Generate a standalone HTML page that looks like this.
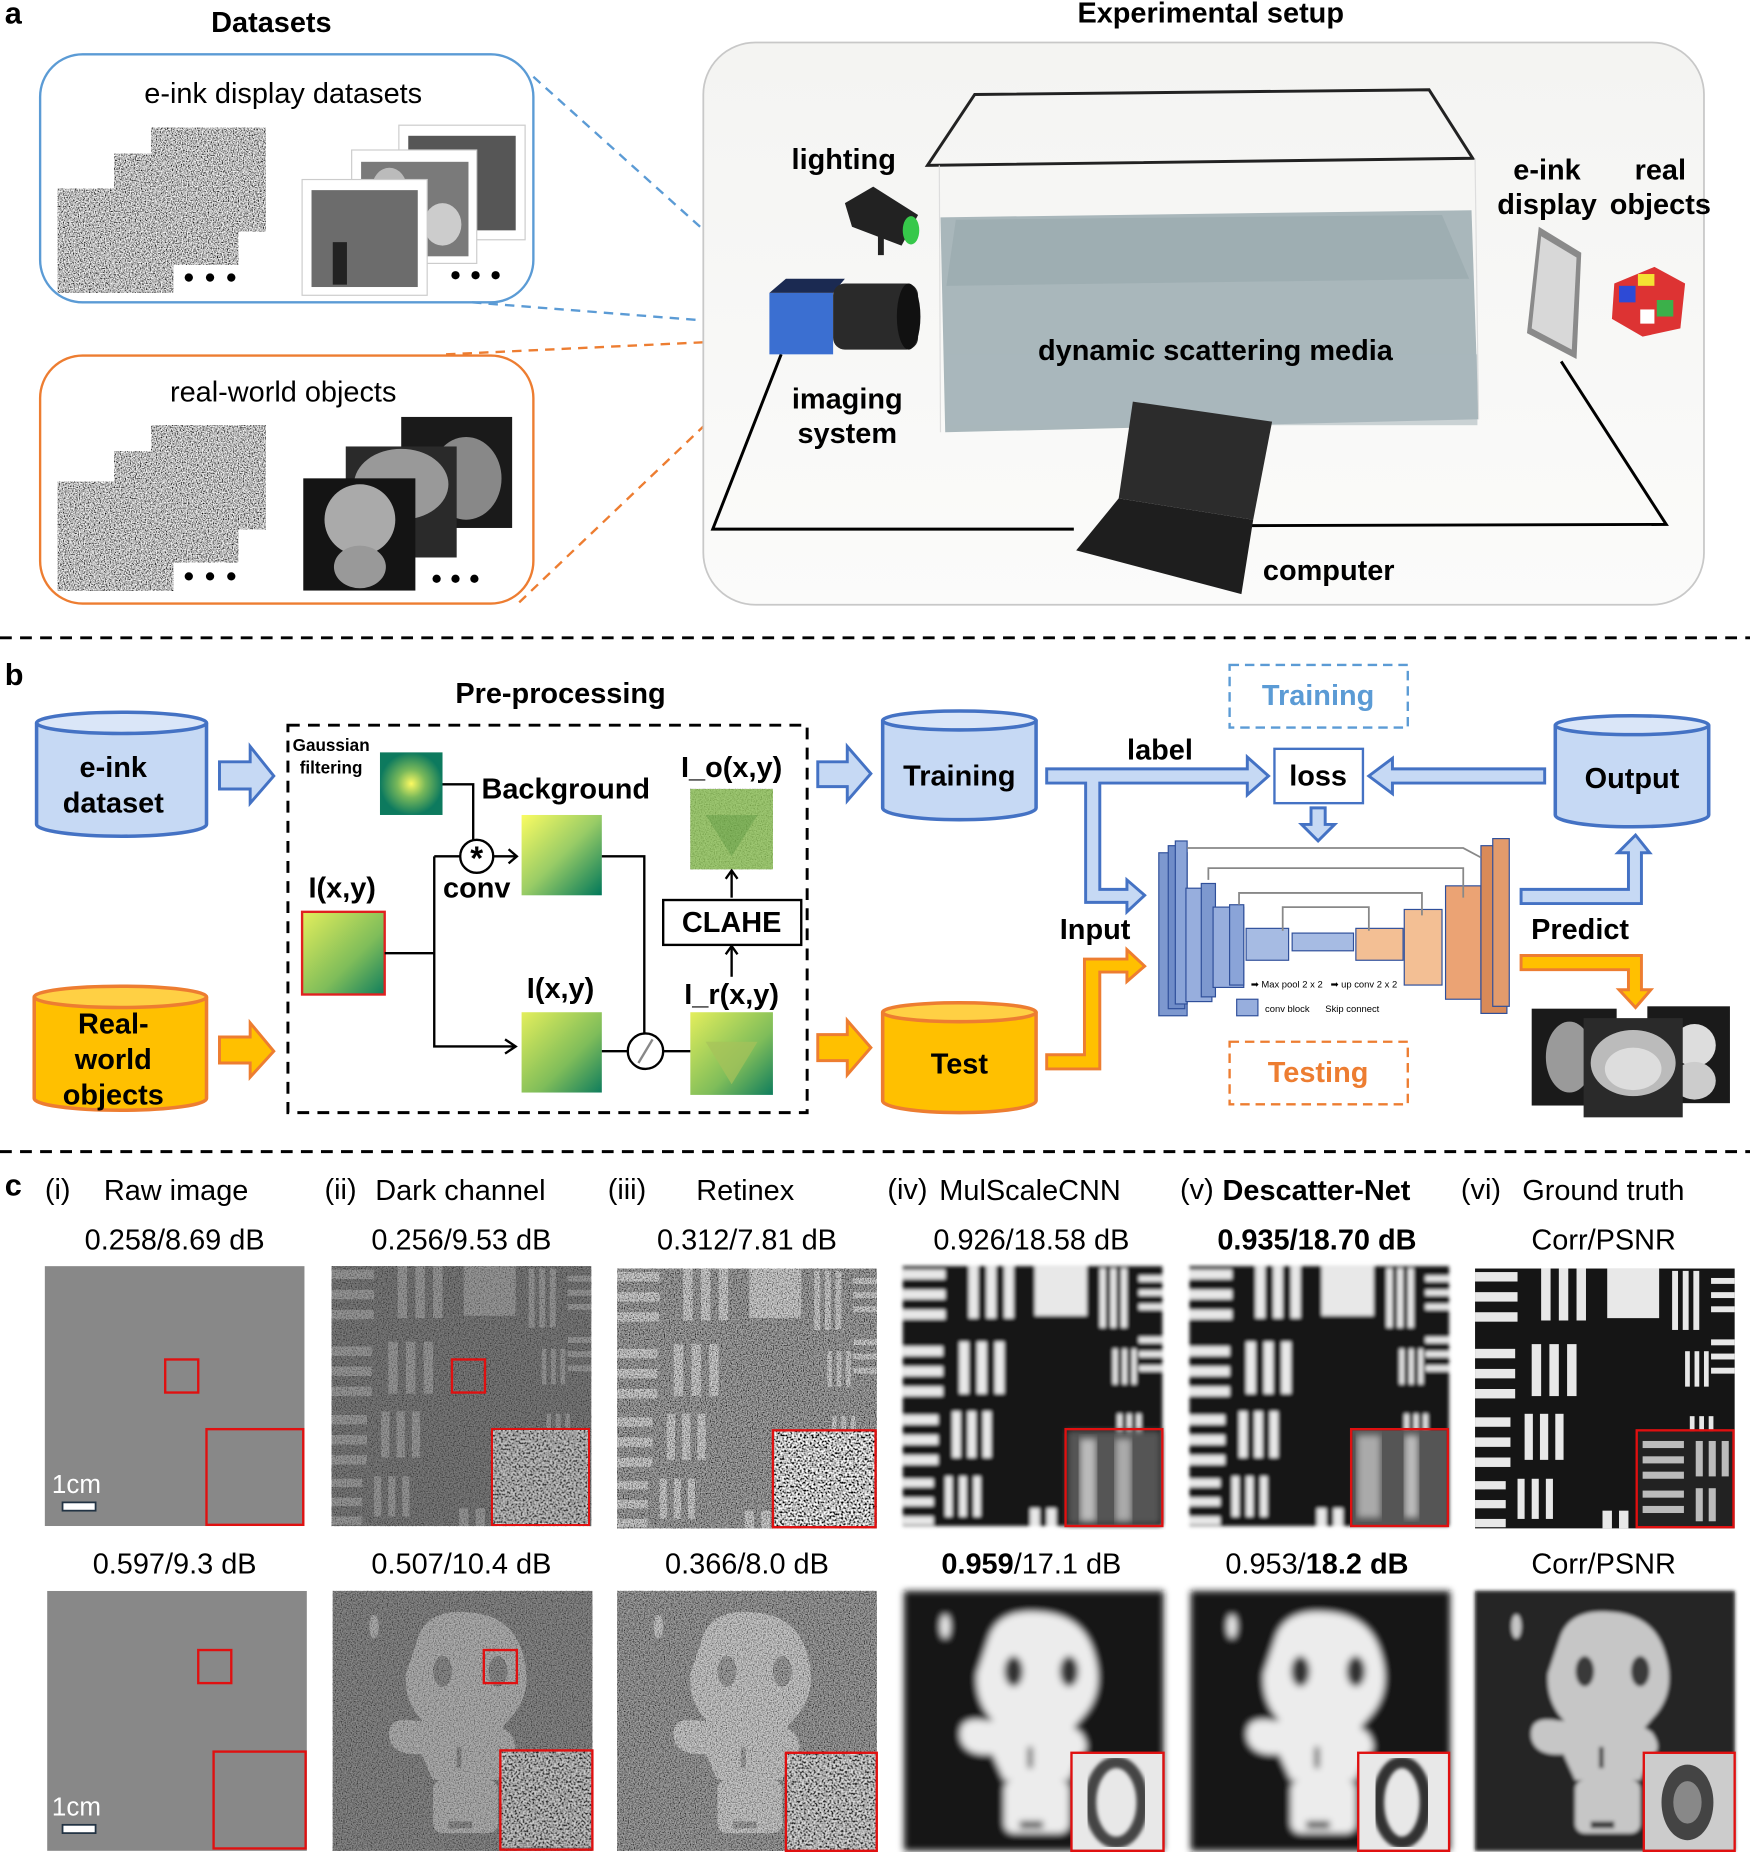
<!DOCTYPE html>
<html><head><meta charset="utf-8">
<style>
html,body{margin:0;padding:0;background:#fff;}
svg{display:block;}
text{font-family:"Liberation Sans",Arial,sans-serif;}
</style></head>
<body>
<svg width="1750" height="1852" viewBox="0 0 1483 1568" preserveAspectRatio="none" xmlns="http://www.w3.org/2000/svg">
<defs>
 <filter id="nz" x="0" y="0" width="1" height="1">
  <feTurbulence type="fractalNoise" baseFrequency="0.95" numOctaves="2" seed="3"/>
  <feColorMatrix type="matrix" values="2.2 0 0 0 -0.6  2.2 0 0 0 -0.6  2.2 0 0 0 -0.6  0 0 0 0 1"/>
 </filter>
 <filter id="nzs" x="0" y="0" width="1" height="1">
  <feTurbulence type="fractalNoise" baseFrequency="0.6" numOctaves="1" seed="7"/>
  <feColorMatrix type="matrix" values="3 0 0 0 -1  3 0 0 0 -1  3 0 0 0 -1  0 0 0 0 1"/>
 </filter>
 <filter id="bl" x="-5%" y="-5%" width="110%" height="110%"><feGaussianBlur stdDeviation="1.6"/></filter>
 <filter id="bl2" x="-5%" y="-5%" width="110%" height="110%"><feGaussianBlur stdDeviation="3"/></filter>
 <linearGradient id="gy" x1="0" y1="0" x2="1" y2="1"><stop offset="0" stop-color="#e3ee5c"/><stop offset="0.6" stop-color="#7fbd5a"/><stop offset="1" stop-color="#0f7d5d"/></linearGradient>
 <linearGradient id="gy2" x1="0" y1="0" x2="1" y2="1"><stop offset="0" stop-color="#fafc62"/><stop offset="0.5" stop-color="#99cc66"/><stop offset="1" stop-color="#00775a"/></linearGradient>
 <radialGradient id="gs"><stop offset="0" stop-color="#fcfa62"/><stop offset="0.45" stop-color="#78b85a"/><stop offset="1" stop-color="#0d7a5e"/></radialGradient>
 <linearGradient id="bg" x1="0" y1="0" x2="0" y2="1"><stop offset="0" stop-color="#f4f4f2"/><stop offset="1" stop-color="#fbfbfa"/></linearGradient>
 <g id="tgt">
  <rect width="220" height="220" fill="#151515"/>
  <g fill="#e8e8e8">
   <rect x="0" y="3" width="36" height="8"/><rect x="0" y="20" width="36" height="8"/><rect x="0" y="37" width="36" height="8"/>
   <rect x="0" y="68" width="34" height="8"/><rect x="0" y="85" width="34" height="8"/><rect x="0" y="102" width="34" height="8"/>
   <rect x="0" y="126" width="30" height="8"/><rect x="0" y="143" width="30" height="8"/><rect x="0" y="160" width="30" height="8"/>
   <rect x="0" y="180" width="26" height="7"/><rect x="0" y="196" width="26" height="7"/><rect x="0" y="212" width="26" height="7"/>
   <rect x="56" y="0" width="8" height="44"/><rect x="71" y="0" width="8" height="44"/><rect x="86" y="0" width="8" height="44"/>
   <rect x="48" y="64" width="8" height="44"/><rect x="63" y="64" width="8" height="44"/><rect x="78" y="64" width="8" height="44"/>
   <rect x="42" y="123" width="7" height="39"/><rect x="55" y="123" width="7" height="39"/><rect x="68" y="123" width="7" height="39"/>
   <rect x="36" y="178" width="6" height="34"/><rect x="48" y="178" width="6" height="34"/><rect x="60" y="178" width="6" height="34"/>
   <rect x="112" y="0" width="44" height="42"/>
   <rect x="167" y="2" width="5" height="50"/><rect x="176" y="2" width="5" height="50"/><rect x="185" y="2" width="5" height="50"/>
   <rect x="200" y="8" width="20" height="5"/><rect x="200" y="20" width="20" height="5"/><rect x="200" y="32" width="20" height="5"/>
   <rect x="200" y="60" width="20" height="5"/><rect x="200" y="72" width="20" height="5"/><rect x="200" y="84" width="20" height="5"/>
   <rect x="178" y="70" width="4" height="30"/><rect x="186" y="70" width="4" height="30"/><rect x="194" y="70" width="4" height="30"/>
   <rect x="182" y="125" width="4" height="30"/><rect x="190" y="125" width="4" height="30"/><rect x="198" y="125" width="4" height="30"/>
   <rect x="108" y="205" width="8" height="15"/><rect x="122" y="205" width="8" height="15"/>
  </g>
 </g>
 <g id="doll">
  <rect width="220" height="220" fill="#161616"/>
  <g fill="#ececec">
   <path d="M72 40 Q80 15 115 18 Q150 20 160 50 Q172 85 150 108 L140 120 Q110 130 85 118 Q60 100 62 70 Z"/>
   <path d="M70 110 Q45 105 48 125 Q52 140 75 138 L85 160 L140 160 L148 140 Q160 135 150 120 L138 112 Z"/>
   <rect x="85" y="160" width="55" height="45" rx="8"/>
   <ellipse cx="35" cy="30" rx="4" ry="10"/>
  </g>
  <g fill="#333"><ellipse cx="93" cy="68" rx="8" ry="13"/><ellipse cx="140" cy="68" rx="8" ry="13"/><rect x="105" y="132" width="4" height="18"/><rect x="98" y="195" width="20" height="6"/></g>
 </g>
</defs>

<!-- ============ PANEL A ============ -->
<text x="4" y="20" font-size="26" font-weight="bold">a</text>
<text x="230" y="27" font-size="24.5" font-weight="bold" text-anchor="middle">Datasets</text>
<text x="1026" y="19" font-size="24.5" font-weight="bold" text-anchor="middle">Experimental setup</text>

<rect x="34" y="46" width="418" height="210" rx="36" fill="#fff" stroke="#5b9bd5" stroke-width="2"/>
<text x="240" y="87" font-size="24.5" text-anchor="middle">e-ink display datasets</text>
<rect x="128" y="108" width="97" height="88" filter="url(#nz)"/>
<rect x="97" y="130" width="105" height="94" fill="#fff"/>
<rect x="97" y="130" width="105" height="94" filter="url(#nz)"/>
<rect x="49" y="160" width="98" height="88" fill="#fff"/>
<rect x="49" y="160" width="98" height="88" filter="url(#nz)"/>
<g fill="#000"><circle cx="160" cy="235" r="3.5"/><circle cx="178" cy="235" r="3.5"/><circle cx="196" cy="235" r="3.5"/>
<circle cx="386" cy="233" r="3.5"/><circle cx="403" cy="233" r="3.5"/><circle cx="420" cy="233" r="3.5"/></g>
<rect x="338" y="106" width="107" height="97" fill="#fff" stroke="#ccc"/><rect x="346" y="115" width="91" height="80" fill="#6d6d6d"/><rect x="346" y="115" width="91" height="80" fill="#222" opacity="0.3"/>
<rect x="298" y="127" width="106" height="96" fill="#fff" stroke="#ccc"/><rect x="306" y="137" width="91" height="80" fill="#7a7a7a"/><ellipse cx="330" cy="160" rx="15" ry="18" fill="#bbb"/><ellipse cx="375" cy="190" rx="16" ry="18" fill="#ccc"/>
<rect x="256" y="152" width="106" height="98" fill="#fff" stroke="#ccc"/><rect x="264" y="161" width="90" height="82" fill="#8a8a8a"/><rect x="264" y="161" width="90" height="82" fill="#333" opacity="0.35"/><rect x="282" y="205" width="12" height="36" fill="#222"/>

<rect x="34" y="301" width="418" height="210" rx="36" fill="#fff" stroke="#ed7d31" stroke-width="2"/>
<text x="240" y="340" font-size="24.5" text-anchor="middle">real-world objects</text>
<rect x="128" y="360" width="97" height="88" filter="url(#nz)"/>
<rect x="97" y="382" width="105" height="94" fill="#fff"/>
<rect x="97" y="382" width="105" height="94" filter="url(#nz)"/>
<rect x="49" y="408" width="98" height="92" fill="#fff"/>
<rect x="49" y="408" width="98" height="92" filter="url(#nz)"/>
<g fill="#000"><circle cx="160" cy="488" r="3.5"/><circle cx="178" cy="488" r="3.5"/><circle cx="196" cy="488" r="3.5"/>
<circle cx="370" cy="490" r="3.5"/><circle cx="386" cy="490" r="3.5"/><circle cx="402" cy="490" r="3.5"/></g>
<rect x="340" y="353" width="94" height="94" fill="#1a1a1a"/><ellipse cx="395" cy="405" rx="30" ry="35" fill="#888"/>
<rect x="293" y="378" width="94" height="94" fill="#2a2a2a"/><ellipse cx="340" cy="410" rx="40" ry="30" fill="#999"/>
<rect x="257" y="405" width="95" height="95" fill="#141414"/><ellipse cx="305" cy="440" rx="30" ry="30" fill="#aaa"/><ellipse cx="305" cy="480" rx="22" ry="18" fill="#999"/>

<!-- dashed connectors -->
<g stroke-width="2" stroke-dasharray="8,6" fill="none">
 <line x1="452" y1="65" x2="660" y2="252" stroke="#5b9bd5"/>
 <line x1="400" y1="256" x2="656" y2="276" stroke="#5b9bd5"/>
 <line x1="378" y1="300" x2="656" y2="287" stroke="#ed7d31"/>
 <line x1="440" y1="510" x2="660" y2="300" stroke="#ed7d31"/>
</g>

<!-- setup box -->
<rect x="596" y="36" width="848" height="476" rx="44" fill="url(#bg)" stroke="#c8c8c8" stroke-width="1.5"/>
<polyline points="662,300 604,448 910,448" fill="none" stroke="#000" stroke-width="2.5"/>
<polyline points="1060,445 1412,444 1323,306" fill="none" stroke="#000" stroke-width="2.5"/>
<polygon points="786,140 826,80 1211,76 1248,134" fill="none" stroke="#222" stroke-width="2.5"/>
<polygon points="797,184 1247,178 1253,355 801,366" fill="#a9b7bb"/>
<polygon points="810,186 1222,182 1245,236 802,242" fill="#9eaeb2"/>
<rect x="802" y="300" width="450" height="60" fill="#aab8bc" opacity="0.6"/>
<line x1="796" y1="140" x2="797" y2="366" stroke="#ddd"/><line x1="1250" y1="134" x2="1253" y2="355" stroke="#ddd"/>
<text x="1030" y="305" font-size="24.5" font-weight="bold" text-anchor="middle">dynamic scattering media</text>
<polygon points="960,340 1078,357 1062,440 948,422" fill="#2c2c2c"/>
<polygon points="948,422 1062,440 1052,503 912,466" fill="#1e1e1e"/>
<rect x="652" y="248" width="54" height="52" fill="#3b6fd1"/>
<polygon points="652,248 666,236 716,236 706,248" fill="#1b2a52"/>
<rect x="706" y="240" width="72" height="56" rx="10" fill="#2a2a2a"/>
<ellipse cx="770" cy="268" rx="10" ry="28" fill="#111"/>
<polygon points="716,172 740,158 778,182 764,208 722,192" fill="#222"/>
<ellipse cx="772" cy="195" rx="7" ry="12" fill="#36c84a"/>
<rect x="744" y="200" width="5" height="16" fill="#222"/>
<text x="715" y="143" font-size="24.5" font-weight="bold" text-anchor="middle">lighting</text>
<text x="718" y="346" font-size="24.5" font-weight="bold" text-anchor="middle">imaging</text>
<text x="718" y="375" font-size="24.5" font-weight="bold" text-anchor="middle">system</text>
<text x="1126" y="491" font-size="24.5" font-weight="bold" text-anchor="middle">computer</text>
<text x="1311" y="152" font-size="24.5" font-weight="bold" text-anchor="middle">e-ink</text>
<text x="1311" y="181" font-size="24.5" font-weight="bold" text-anchor="middle">display</text>
<text x="1407" y="152" font-size="24.5" font-weight="bold" text-anchor="middle">real</text>
<text x="1407" y="181" font-size="24.5" font-weight="bold" text-anchor="middle">objects</text>
<polygon points="1304,192 1340,214 1336,304 1294,282" fill="#8a8a8a"/>
<polygon points="1306,200 1336,218 1332,296 1298,278" fill="#d8d8d8"/>
<polygon points="1368,240 1402,226 1428,240 1424,278 1392,285 1366,270" fill="#d33"/>
<rect x="1372" y="242" width="14" height="14" fill="#2d4ad6"/><rect x="1388" y="232" width="14" height="10" fill="#f4e233"/><rect x="1404" y="254" width="14" height="14" fill="#3bb04a"/><rect x="1390" y="262" width="12" height="12" fill="#fff"/>

<line x1="0" y1="540" x2="1483" y2="540" stroke="#000" stroke-width="2.5" stroke-dasharray="10,7"/>

<!-- ============ PANEL B ============ -->
<text x="4" y="580" font-size="26" font-weight="bold">b</text>
<text x="475" y="595" font-size="24.5" font-weight="bold" text-anchor="middle">Pre-processing</text>

<g stroke-width="3">
 <path d="M31 612 L31 698 A72 10 0 0 0 175 698 L175 612" fill="#c6d9f4" stroke="#4472c4"/>
 <ellipse cx="103" cy="612" rx="72" ry="9" fill="#dae6f8" stroke="#4472c4"/>
 <path d="M29 844 L29 930 A73 10 0 0 0 175 930 L175 844" fill="#ffc000" stroke="#ed7d31"/>
 <ellipse cx="102" cy="844" rx="73" ry="9" fill="#ffd044" stroke="#ed7d31"/>
 <path d="M748 610 L748 684 A65 10 0 0 0 878 684 L878 610" fill="#c6d9f4" stroke="#4472c4"/>
 <ellipse cx="813" cy="610" rx="65" ry="8" fill="#dae6f8" stroke="#4472c4"/>
 <path d="M748 857 L748 932 A65 10 0 0 0 878 932 L878 857" fill="#ffc000" stroke="#ed7d31"/>
 <ellipse cx="813" cy="857" rx="65" ry="8" fill="#ffd044" stroke="#ed7d31"/>
 <path d="M1318 614 L1318 690 A65 10 0 0 0 1448 690 L1448 614" fill="#c6d9f4" stroke="#4472c4"/>
 <ellipse cx="1383" cy="614" rx="65" ry="8" fill="#dae6f8" stroke="#4472c4"/>
</g>
<text x="96" y="658" font-size="24.5" font-weight="bold" text-anchor="middle">e-ink</text>
<text x="96" y="688" font-size="24.5" font-weight="bold" text-anchor="middle">dataset</text>
<text x="96" y="875" font-size="24.5" font-weight="bold" text-anchor="middle">Real-</text>
<text x="96" y="905" font-size="24.5" font-weight="bold" text-anchor="middle">world</text>
<text x="96" y="935" font-size="24.5" font-weight="bold" text-anchor="middle">objects</text>
<text x="813" y="665" font-size="24.5" font-weight="bold" text-anchor="middle">Training</text>
<text x="813" y="909" font-size="24.5" font-weight="bold" text-anchor="middle">Test</text>
<text x="1383" y="667" font-size="24.5" font-weight="bold" text-anchor="middle">Output</text>

<g stroke-width="2.5">
 <polygon points="186,645 212,645 212,632 232,657 212,680 212,668 186,668" fill="#c6d9f4" stroke="#4472c4"/>
 <polygon points="186,878 212,878 212,866 232,890 212,912 212,900 186,900" fill="#ffc000" stroke="#ed7d31"/>
 <polygon points="693,645 718,645 718,632 738,655 718,678 718,666 693,666" fill="#c6d9f4" stroke="#4472c4"/>
 <polygon points="693,876 718,876 718,864 738,887 718,910 718,898 693,898" fill="#ffc000" stroke="#ed7d31"/>
 <polygon points="887,651 1057,651 1057,641 1075,657 1057,673 1057,663 932,663 932,753 955,753 955,745 970,758 955,772 955,764 920,764 920,663 887,663" fill="#c6d9f4" stroke="#4472c4"/>
 <polygon points="1309,651 1180,651 1180,642 1160,657 1180,672 1180,663 1309,663" fill="#c6d9f4" stroke="#4472c4"/>
 <polygon points="1111,684 1123,684 1123,698 1131,698 1117,712 1103,698 1111,698" fill="#c6d9f4" stroke="#4472c4"/>
 <polygon points="1289,753 1380,753 1380,722 1371,722 1386,707 1398,722 1391,722 1391,765 1289,765" fill="#c6d9f4" stroke="#4472c4"/>
 <polygon points="887,893 919,893 919,812 955,812 955,804 970,818 955,831 955,823 932,823 932,905 887,905" fill="#ffc000" stroke="#ed7d31"/>
 <polygon points="1289,809 1391,809 1391,838 1399,838 1386,853 1372,838 1380,838 1380,821 1289,821" fill="#ffc000" stroke="#ed7d31"/>
</g>
<text x="983" y="643" font-size="24.5" font-weight="bold" text-anchor="middle">label</text>
<rect x="1080" y="634" width="75" height="46" fill="#fff" stroke="#4472c4" stroke-width="2"/>
<text x="1117" y="665" font-size="24.5" font-weight="bold" text-anchor="middle">loss</text>
<rect x="1042" y="563" width="151" height="53" fill="none" stroke="#5b9bd5" stroke-width="2" stroke-dasharray="8,5"/>
<text x="1117" y="597" font-size="24.5" font-weight="bold" fill="#5b9bd5" text-anchor="middle">Training</text>
<rect x="1042" y="882" width="151" height="53" fill="none" stroke="#ed7d31" stroke-width="2" stroke-dasharray="8,5"/>
<text x="1117" y="916" font-size="24.5" font-weight="bold" fill="#ed7d31" text-anchor="middle">Testing</text>
<text x="928" y="795" font-size="24.5" font-weight="bold" text-anchor="middle">Input</text>
<text x="1339" y="795" font-size="24.5" font-weight="bold" text-anchor="middle">Predict</text>

<g stroke="#2f4f9a" stroke-width="1">
 <rect x="982" y="722" width="24" height="138" fill="#7d98cf"/><rect x="990" y="716" width="14" height="138" fill="#6f8cc8"/><rect x="996" y="712" width="10" height="138" fill="#8aa4d8"/>
 <rect x="1005" y="752" width="22" height="96" fill="#97aedd"/><rect x="1018" y="748" width="12" height="96" fill="#7d98cf"/>
 <rect x="1028" y="768" width="26" height="68" fill="#97aedd"/><rect x="1042" y="766" width="12" height="68" fill="#8aa4d8"/>
 <rect x="1056" y="786" width="36" height="27" fill="#a6bbe3"/>
 <rect x="1095" y="790" width="52" height="15" fill="#a6bbe3"/>
</g>
<g stroke="#2f4f9a" stroke-width="1">
 <rect x="1149" y="786" width="40" height="27" fill="#f3bf94"/><rect x="1190" y="770" width="32" height="64" fill="#f3bf94"/>
 <rect x="1225" y="750" width="30" height="96" fill="#eba374"/><rect x="1255" y="716" width="22" height="142" fill="#d98a58"/><rect x="1265" y="710" width="14" height="142" fill="#e29b6c"/>
</g>
<g stroke="#888" stroke-width="1.5" fill="none">
 <polyline points="1006,718 1240,718 1255,726"/>
 <polyline points="1024,745 1024,735 1240,735 1240,760"/>
 <polyline points="1050,766 1050,756 1205,756 1205,775"/>
 <polyline points="1087,788 1087,768 1160,768 1160,788"/>
</g>
<text x="1060" y="836" font-size="8">➡ Max pool 2 x 2 &#160; ➡ up conv 2 x 2</text>
<rect x="1048" y="846" width="18" height="14" fill="#97aedd" stroke="#2f4f9a"/>
<text x="1072" y="857" font-size="8">conv block &#160;&#160;&#160;&#160; Skip connect</text>
<rect x="1298" y="854" width="72" height="82" fill="#1a1a1a"/><ellipse cx="1330" cy="895" rx="20" ry="30" fill="#9a9a9a"/>
<rect x="1396" y="852" width="70" height="82" fill="#1a1a1a"/><ellipse cx="1436" cy="885" rx="18" ry="18" fill="#ddd"/><ellipse cx="1436" cy="915" rx="18" ry="16" fill="#ccc"/>
<rect x="1342" y="862" width="84" height="84" fill="#2a2a2a"/><ellipse cx="1384" cy="900" rx="36" ry="28" fill="#bbb"/><ellipse cx="1384" cy="905" rx="24" ry="18" fill="#ddd"/>

<rect x="244" y="614" width="440" height="328" fill="none" stroke="#000" stroke-width="2.5" stroke-dasharray="10,7"/>
<text x="248" y="636" font-size="14.5" font-weight="bold">Gaussian</text>
<text x="254" y="655" font-size="14.5" font-weight="bold">filtering</text>
<rect x="322" y="637" width="53" height="53" fill="url(#gs)"/>
<text x="408" y="676" font-size="24.5" font-weight="bold">Background</text>
<rect x="442" y="690" width="68" height="68" fill="url(#gy2)"/>
<text x="290" y="760" font-size="24.5" font-weight="bold" text-anchor="middle">I(x,y)</text>
<rect x="256" y="772" width="70" height="70" fill="url(#gy)" stroke="#e02020" stroke-width="2"/>
<text x="475" y="845" font-size="24.5" font-weight="bold" text-anchor="middle">I(x,y)</text>
<rect x="442" y="857" width="68" height="68" fill="url(#gy)"/>
<text x="620" y="850" font-size="24.5" font-weight="bold" text-anchor="middle">I_r(x,y)</text>
<rect x="585" y="857" width="70" height="70" fill="url(#gy)"/><polygon points="598,882 642,882 620,918" fill="#a6c25a" opacity="0.7"/>
<text x="620" y="658" font-size="24.5" font-weight="bold" text-anchor="middle">I_o(x,y)</text>
<rect x="585" y="668" width="70" height="68" fill="#8cbf54"/><rect x="585" y="668" width="70" height="68" fill="#6aa84f" opacity="0.4" filter="url(#nz)"/><rect x="585" y="668" width="70" height="68" fill="#8cc05a" opacity="0.55"/>
<polygon points="598,690 642,690 620,725" fill="#4f8f3a" opacity="0.35"/>
<rect x="562" y="762" width="117" height="38" fill="#fff" stroke="#000" stroke-width="2"/>
<text x="620" y="789" font-size="24.5" font-weight="bold" text-anchor="middle">CLAHE</text>
<g stroke="#000" stroke-width="2" fill="none">
 <polyline points="375,664 401,664 401,712"/>
 <polyline points="326,807 368,807"/>
 <polyline points="368,725 368,886 436,886"/><polyline points="428,880 437,886 428,892"/>
 <line x1="368" y1="725" x2="390" y2="725"/>
 <line x1="418" y1="725" x2="438" y2="725"/><polyline points="431,719 438,725 431,731"/>
 <polyline points="510,725 546,725 546,875"/>
 <line x1="510" y1="890" x2="532" y2="890"/><line x1="562" y1="890" x2="585" y2="890"/>
 <line x1="620" y1="827" x2="620" y2="802"/><polyline points="615,808 620,801 625,808"/>
 <line x1="620" y1="760" x2="620" y2="738"/><polyline points="615,744 620,737 625,744"/>
 <circle cx="404" cy="725" r="14" fill="#fff"/>
 <circle cx="547" cy="890" r="15" fill="#fff"/>
 <line x1="541" y1="900" x2="553" y2="880" stroke="#888"/>
</g>
<text x="404" y="736" font-size="28" font-weight="bold" text-anchor="middle">*</text>
<text x="404" y="760" font-size="24.5" font-weight="bold" text-anchor="middle">conv</text>

<line x1="0" y1="975" x2="1483" y2="975" stroke="#000" stroke-width="2.5" stroke-dasharray="10,7"/>

<!-- ============ PANEL C ============ -->
<text x="4" y="1012" font-size="26" font-weight="bold">c</text>
<g font-size="24.5">
 <text x="38" y="1015">(i)</text><text x="88" y="1016">Raw image</text>
 <text x="275" y="1015">(ii)</text><text x="318" y="1016">Dark channel</text>
 <text x="515" y="1015">(iii)</text><text x="590" y="1016">Retinex</text>
 <text x="752" y="1015">(iv)</text><text x="796" y="1016">MulScaleCNN</text>
 <text x="1000" y="1015">(v)</text><text x="1036" y="1016" font-weight="bold">Descatter-Net</text>
 <text x="1238" y="1015">(vi)</text><text x="1290" y="1016">Ground truth</text>
 <text x="148" y="1058" text-anchor="middle">0.258/8.69 dB</text>
 <text x="391" y="1058" text-anchor="middle">0.256/9.53 dB</text>
 <text x="633" y="1058" text-anchor="middle">0.312/7.81 dB</text>
 <text x="874" y="1058" text-anchor="middle">0.926/18.58 dB</text>
 <text x="1116" y="1058" text-anchor="middle" font-weight="bold">0.935/18.70 dB</text>
 <text x="1359" y="1058" text-anchor="middle">Corr/PSNR</text>
 <text x="148" y="1332" text-anchor="middle">0.597/9.3 dB</text>
 <text x="391" y="1332" text-anchor="middle">0.507/10.4 dB</text>
 <text x="633" y="1332" text-anchor="middle">0.366/8.0 dB</text>
 <text x="874" y="1332" text-anchor="middle"><tspan font-weight="bold">0.959</tspan>/17.1 dB</text>
 <text x="1116" y="1332" text-anchor="middle">0.953/<tspan font-weight="bold">18.2 dB</tspan></text>
 <text x="1359" y="1332" text-anchor="middle">Corr/PSNR</text>
</g>

<rect x="38" y="1072" width="220" height="220" fill="#888"/>
<g transform="translate(281,1072)"><use href="#tgt"/><rect width="220" height="220" fill="#555" opacity="0.8"/><rect width="220" height="220" filter="url(#nz)" opacity="0.3"/></g>
<g transform="translate(523,1074)"><use href="#tgt"/><rect width="220" height="220" fill="#666" opacity="0.5"/><rect width="220" height="220" filter="url(#nz)" opacity="0.6"/></g>
<g transform="translate(765,1072)"><use href="#tgt" filter="url(#bl)"/></g>
<g transform="translate(1008,1072)"><use href="#tgt" filter="url(#bl)"/></g>
<g transform="translate(1250,1074)"><use href="#tgt"/></g>
<g fill="none" stroke="#e01010" stroke-width="2">
 <rect x="140" y="1151" width="28" height="28"/><rect x="175" y="1210" width="82" height="81"/>
 <rect x="383" y="1151" width="28" height="28"/><rect x="417" y="1210" width="82" height="81"/>
</g>
<rect x="418" y="1211" width="80" height="79" filter="url(#nzs)"/><rect x="418" y="1211" width="80" height="79" fill="#777" opacity="0.45"/>
<rect x="656" y="1212" width="86" height="81" filter="url(#nzs)"/>
<rect x="904" y="1211" width="80" height="80" fill="#555" filter="url(#bl2)"/><rect x="915" y="1218" width="14" height="70" fill="#bbb" filter="url(#bl2)"/><rect x="945" y="1218" width="14" height="70" fill="#aaa" filter="url(#bl2)"/>
<rect x="1146" y="1211" width="80" height="80" fill="#555"/><rect x="1150" y="1215" width="20" height="70" fill="#aaa" filter="url(#bl2)"/><rect x="1190" y="1215" width="12" height="70" fill="#bbb" filter="url(#bl2)"/>
<rect x="1388" y="1212" width="80" height="80" fill="#222"/>
<g fill="#bbb"><rect x="1392" y="1220" width="35" height="6"/><rect x="1392" y="1233" width="35" height="6"/><rect x="1392" y="1246" width="35" height="6"/><rect x="1392" y="1262" width="35" height="6"/><rect x="1392" y="1275" width="35" height="6"/>
<rect x="1437" y="1220" width="6" height="30"/><rect x="1448" y="1220" width="6" height="30"/><rect x="1459" y="1220" width="6" height="30"/><rect x="1437" y="1260" width="6" height="28"/><rect x="1448" y="1260" width="6" height="28"/></g>
<g fill="none" stroke="#e01010" stroke-width="2">
 <rect x="655" y="1211" width="87" height="82"/><rect x="903" y="1210" width="82" height="82"/><rect x="1145" y="1210" width="82" height="82"/><rect x="1387" y="1211" width="82" height="82"/>
</g>
<text x="44" y="1264" font-size="22" fill="#fff">1cm</text>
<rect x="53" y="1272" width="28" height="7" fill="#fff" stroke="#234" stroke-width="1.5"/>

<rect x="40" y="1347" width="220" height="220" fill="#888"/>
<g transform="translate(282,1347)"><use href="#doll"/><rect width="220" height="220" fill="#666" opacity="0.72"/><rect width="220" height="220" filter="url(#nz)" opacity="0.35"/></g>
<g transform="translate(523,1347)"><use href="#doll"/><rect width="220" height="220" fill="#777" opacity="0.6"/><rect width="220" height="220" filter="url(#nz)" opacity="0.5"/></g>
<g transform="translate(766,1347)"><use href="#doll" filter="url(#bl2)"/></g>
<g transform="translate(1009,1347)"><use href="#doll" filter="url(#bl2)"/></g>
<g transform="translate(1250,1347)"><use href="#doll" filter="url(#bl)"/><rect width="220" height="220" fill="#555" opacity="0.25"/></g>
<rect x="425" y="1482" width="77" height="82" filter="url(#nzs)" opacity="0.6"/>
<rect x="666" y="1484" width="77" height="82" filter="url(#nzs)" opacity="0.7"/>
<rect x="908" y="1484" width="77" height="82" fill="#e8e8e8"/><ellipse cx="946" cy="1526" rx="22" ry="34" fill="none" stroke="#444" stroke-width="10" filter="url(#bl)"/>
<rect x="1151" y="1484" width="77" height="82" fill="#e8e8e8"/><ellipse cx="1188" cy="1526" rx="20" ry="34" fill="none" stroke="#333" stroke-width="10" filter="url(#bl)"/>
<rect x="1393" y="1484" width="77" height="82" fill="#ccc"/><ellipse cx="1430" cy="1526" rx="22" ry="32" fill="#444"/><ellipse cx="1430" cy="1526" rx="12" ry="18" fill="#888"/>
<g fill="none" stroke="#e01010" stroke-width="2">
 <rect x="168" y="1397" width="28" height="28"/><rect x="181" y="1483" width="78" height="82"/>
 <rect x="410" y="1397" width="28" height="28"/><rect x="424" y="1482" width="78" height="84"/>
 <rect x="666" y="1484" width="77" height="83"/><rect x="908" y="1484" width="78" height="83"/><rect x="1151" y="1484" width="77" height="83"/><rect x="1393" y="1484" width="77" height="83"/>
</g>
<text x="44" y="1537" font-size="22" fill="#fff">1cm</text>
<rect x="53" y="1545" width="28" height="7" fill="#fff" stroke="#234" stroke-width="1.5"/>
</svg>
</body></html>
